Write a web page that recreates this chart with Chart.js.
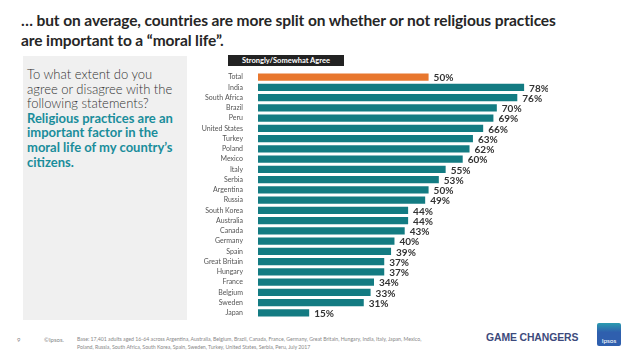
<!DOCTYPE html>
<html>
<head>
<meta charset="utf-8">
<script src="https://cdn.jsdelivr.net/npm/chart.js@4"></script>
<style>
  body { margin: 0; width: 638px; height: 359px; background: #fff; position: relative; overflow: hidden; font-family: Lato, "Open Sans", sans-serif; }
  .title { position: absolute; left: 21px; top: 10px; font-size: 15.5px; font-weight: bold; color: #262626; line-height: 20px; letter-spacing: -0.1px; }
  .panel { position: absolute; left: 23px; top: 56px; width: 164px; height: 264px; background: #f0f0f0; }
  .panel p { margin: 0; position: absolute; left: 4px; top: 11px; width: 170px; font-size: 13px; line-height: 14.6px; color: #333; font-weight: 300; white-space: nowrap; }
  .panel b { color: #1a8d9b; font-weight: bold; }
  .hdr { position: absolute; left: 228px; top: 55px; width: 116px; height: 11px; background: #222; color: #fff; font-size: 7.5px; font-weight: bold; text-align: center; line-height: 11px; }
  #wrap { position: absolute; left: 195px; top: 72px; width: 353px; height: 246px; }
  .foot { position: absolute; font-size: 5.2px; color: #888; line-height: 8px; white-space: nowrap; }
  .gc { position: absolute; left: 486px; top: 332px; font-family: "Liberation Sans", Arial, sans-serif; font-weight: bold; font-size: 10.4px; color: #3d4a7c; letter-spacing: -0.1px; }
  .logo { position: absolute; left: 597px; top: 323px; width: 24px; height: 23px; background: linear-gradient(#2a9bb0, #2f5fae 40%); border-radius: 2px; color: #fff; font-size: 6.5px; text-align: center; }
  .logo span { position: absolute; bottom: 2px; left: 0; right: 0; }
</style>
</head>
<body>
<div class="title">… but on average, countries are more split on whether or not religious practices<br>are important to a “moral life”.</div>
<div class="panel"><p>To what extent do you<br>agree or disagree with the<br>following statements?<br><b>Religious practices are an<br>important factor in the<br>moral life of my country’s<br>citizens.</b></p></div>
<div class="hdr">Strongly/Somewhat Agree</div>
<div id="wrap"><canvas id="chart"></canvas></div>
<div class="foot" style="left:17px; top:336px; font-size:6px;">9</div>
<div class="foot" style="left:44px; top:336px; font-size:6px;">©Ipsos.</div>
<div class="foot" style="left:77px; top:335px;">Base: 17,401 adults aged 16-64 across Argentina, Australia, Belgium, Brazil, Canada, France, Germany, Great Britain, Hungary, India, Italy, Japan, Mexico,<br>Poland, Russia, South Africa, South Korea, Spain, Sweden, Turkey, United States, Serbia, Peru, July 2017</div>
<div class="gc">GAME CHANGERS</div>
<div class="logo"><span>Ipsos</span></div>
<script>
const countries = ['Total', 'India', 'South Africa', 'Brazil', 'Peru', 'United States', 'Turkey', 'Poland', 'Mexico', 'Italy', 'Serbia', 'Argentina', 'Russia', 'South Korea', 'Australia', 'Canada', 'Germany', 'Spain', 'Great Britain', 'Hungary', 'France', 'Belgium', 'Sweden', 'Japan'];
const agree = [50, 78, 76, 70, 69, 66, 63, 62, 60, 55, 53, 50, 49, 44, 44, 43, 40, 39, 37, 37, 34, 33, 31, 15];
const teal = '#137b82';
const orange = '#e8772e';

// value labels at the end of each bar
const valueLabels = {
  id: 'valueLabels',
  afterDatasetsDraw(chart) {
    const c = chart.ctx;
    const meta = chart.getDatasetMeta(0);
    c.save();
    c.font = 'bold 10px Lato, sans-serif';
    c.fillStyle = '#333';
    c.textBaseline = 'middle';
    meta.data.forEach((bar, i) => {
      c.fillText(agree[i] + '%', bar.x + 5, bar.y + 1);
    });
    c.restore();
  }
};

new Chart(document.getElementById('chart'), {
  type: 'bar',
  data: {
    labels: countries,
    datasets: [{
      data: agree,
      backgroundColor: countries.map((c, i) => i === 0 ? orange : teal),
      barPercentage: 0.72,
      categoryPercentage: 1
    }]
  },
  options: {
    indexAxis: 'y',
    responsive: true,
    maintainAspectRatio: false,
    animation: false,
    layout: { padding: 0 },
    plugins: { legend: { display: false }, tooltip: { enabled: false } },
    scales: {
      x: { display: false, min: 0, max: 85 },
      y: {
        grid: { display: false },
        border: { display: false },
        ticks: { color: '#555', font: { size: 7, family: 'Lato' }, padding: 7, autoSkip: false },
        afterFit(scale) {
          scale.width = 63;
          // keep the rows filling the full height
          scale.paddingTop = 0;
          scale.paddingBottom = 0;
        }
      }
    }
  },
  plugins: [valueLabels]
});
</script>
</body>
</html>
